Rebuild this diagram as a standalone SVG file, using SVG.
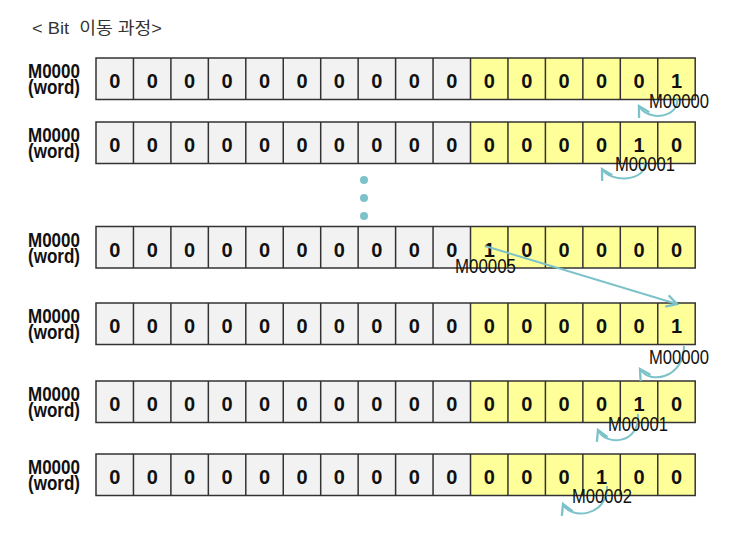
<svg xmlns="http://www.w3.org/2000/svg" xmlns:xlink="http://www.w3.org/1999/xlink" width="745" height="544" viewBox="0 0 745 544">
<style>
.gray{fill:#f2f2f2}
.yel{fill:#ffff99}
.edge{fill:none;stroke:#333;stroke-width:1.5}
.dig{font-family:"Liberation Sans",Arial,sans-serif;font-weight:bold;font-size:20px;fill:#111;text-anchor:middle}
.lbl{font-family:"Liberation Sans",Arial,sans-serif;font-weight:bold;font-size:20px;fill:#111}
.bit{font-family:"Liberation Sans",Arial,sans-serif;font-size:20px;fill:#111}
.title{font-family:"Liberation Sans","Noto Sans CJK KR",sans-serif;font-size:16.5px;fill:#333;white-space:pre}
.conn{fill:none;stroke:#7cc3c9;stroke-width:2}
.dot{fill:#7cc3c9}
</style>
<defs>
<marker id="ah" markerUnits="userSpaceOnUse" markerWidth="14" markerHeight="14" viewBox="0 0 12 12" refX="10" refY="6" orient="auto">
<path d="M1,1 L10,6 L1,11" fill="none" stroke="#7cc3c9" stroke-width="2"/>
</marker>
<g id="grid">
<rect class="gray" x="96" y="0" width="374.5" height="41.5"/>
<rect class="yel" x="470.5" y="0" width="224.7" height="41.5"/>
<path class="edge" d="M133.45,0V41.5M170.9,0V41.5M208.35,0V41.5M245.8,0V41.5M283.25,0V41.5M320.7,0V41.5M358.15,0V41.5M395.6,0V41.5M433.05,0V41.5M470.5,0V41.5M507.95,0V41.5M545.4,0V41.5M582.85,0V41.5M620.3,0V41.5M657.75,0V41.5"/>
<rect class="edge" x="96" y="0" width="599.2" height="41.5"/>
<text class="dig" x="114.7 152.2 189.6 227.1 264.5 302 339.4 376.9 414.3 451.8" y="30">0000000000</text>
<text class="lbl" x="28" y="20" textLength="52" lengthAdjust="spacingAndGlyphs">M0000</text>
<text class="lbl" x="28" y="36" textLength="52" lengthAdjust="spacingAndGlyphs">(word)</text>
</g>
</defs>
<text class="title" x="32" y="34" xml:space="preserve" textLength="130" lengthAdjust="spacingAndGlyphs">&lt; Bit  이동 과정&gt;</text>
<g id="row1" transform="translate(0,58)">
<use xlink:href="#grid"/>
<text class="dig" x="489.2 526.7 564.1 601.6 639 676.5" y="30">000001</text>
</g>
<g id="row2" transform="translate(0,122)">
<use xlink:href="#grid"/>
<text class="dig" x="489.2 526.7 564.1 601.6 639 676.5" y="30">000010</text>
</g>
<g id="ellipsis">
<circle class="dot" cx="364" cy="180" r="4"/>
<circle class="dot" cx="364" cy="198" r="4"/>
<circle class="dot" cx="364" cy="216" r="4"/>
</g>
<g id="row3" transform="translate(0,226.5)">
<use xlink:href="#grid"/>
<text class="dig" x="489.2 526.7 564.1 601.6 639 676.5" y="30">100000</text>
</g>
<g id="row4" transform="translate(0,303)">
<use xlink:href="#grid"/>
<text class="dig" x="489.2 526.7 564.1 601.6 639 676.5" y="30">000001</text>
</g>
<g id="row5" transform="translate(0,381)">
<use xlink:href="#grid"/>
<text class="dig" x="489.2 526.7 564.1 601.6 639 676.5" y="30">000010</text>
</g>
<g id="row6" transform="translate(0,454)">
<use xlink:href="#grid"/>
<text class="dig" x="489.2 526.7 564.1 601.6 639 676.5" y="30">000100</text>
</g>
<g id="connectors">
<path class="conn" marker-end="url(#ah)" d="M677,98 C680,118 648,122 639,106"/>
<path class="conn" marker-end="url(#ah)" d="M645,162 C647,182 610,183 602,169"/>
<path class="conn" stroke-width="1.5" marker-end="url(#ah)" d="M485,246 L677,304"/>
<path class="conn" marker-end="url(#ah)" d="M684,346 C684,378 650,385 640,369"/>
<path class="conn" marker-end="url(#ah)" d="M638,414 C640,445 605,446 598,430"/>
<path class="conn" marker-end="url(#ah)" d="M607,486 C608,517 570,520 563,504"/>
</g>
<g id="bit-labels">
<text class="bit" x="649" y="108" textLength="60" lengthAdjust="spacingAndGlyphs">M00000</text>
<text class="bit" x="615" y="171" textLength="60" lengthAdjust="spacingAndGlyphs">M00001</text>
<text class="bit" x="455" y="273" textLength="61" lengthAdjust="spacingAndGlyphs">M00005</text>
<text class="bit" x="649" y="364" textLength="60" lengthAdjust="spacingAndGlyphs">M00000</text>
<text class="bit" x="608" y="431" textLength="60" lengthAdjust="spacingAndGlyphs">M00001</text>
<text class="bit" x="572" y="503" textLength="60" lengthAdjust="spacingAndGlyphs">M00002</text>
</g>
</svg>
